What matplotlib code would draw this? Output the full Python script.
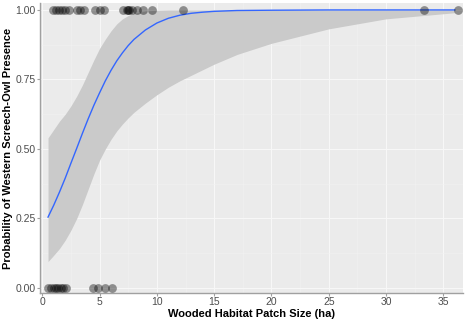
import numpy as np
import matplotlib.pyplot as plt

plt.rcParams['font.family'] = ['Liberation Sans', 'DejaVu Sans']

# fitted logistic curve
fit_x = [0.5, 1.0, 1.5, 2.0, 2.5, 3.0, 3.5, 4.0, 4.5, 5.0, 5.5, 6.0, 6.5, 7.0,
         7.5, 8.0, 9.0, 10.0, 11.0, 12.0, 13.0, 14.0, 15.0, 17.0, 20.0, 25.0, 30.0, 36.0]
fit_y = [0.255, 0.298, 0.345, 0.395, 0.449, 0.502, 0.556, 0.608, 0.657, 0.702,
         0.745, 0.783, 0.817, 0.846, 0.872, 0.894, 0.928, 0.953, 0.970, 0.981,
         0.988, 0.992, 0.995, 0.998, 0.999, 1.0, 1.0, 1.0]
lower = [0.095, 0.118, 0.142, 0.172, 0.208, 0.250, 0.300, 0.355, 0.410, 0.460,
         0.500, 0.535, 0.565, 0.590, 0.612, 0.632, 0.665, 0.695, 0.722, 0.745,
         0.765, 0.785, 0.805, 0.840, 0.880, 0.932, 0.968, 0.990]
upper = [0.540, 0.570, 0.600, 0.625, 0.655, 0.690, 0.730, 0.775, 0.820, 0.862,
         0.895, 0.925, 0.950, 0.968, 0.980, 0.988, 0.996, 0.999, 1.0, 1.0,
         1.0, 1.0, 1.0, 1.0, 1.0, 1.0, 1.0, 1.0]

# observed sites
present_x = [0.9, 1.2, 1.5, 1.7, 2.0, 2.3, 3.0, 3.3, 3.6, 4.6, 5.0, 5.4,
             7.0, 7.4, 7.5, 7.6, 7.8, 8.3, 8.8, 9.6, 12.3, 33.3, 36.3]
absent_x = [0.5, 0.8, 1.0, 1.2, 1.4, 1.6, 1.8, 2.1, 4.4, 4.9, 5.5, 6.1]

xticks = [0, 5, 10, 15, 20, 25, 30, 35]
yticks = [0.0, 0.25, 0.50, 0.75, 1.0]

fig = plt.figure(figsize=(4.74, 3.22), dpi=100)
ax = fig.add_axes([0.0844, 0.09, 0.892, 0.9007])
ax.set_facecolor('#EBEBEB')

ax.fill_between(fit_x, lower, upper, color='#CACACA', lw=0, zorder=2)
ax.plot(fit_x, fit_y, color='#3366FF', lw=1.0, zorder=3)
ax.scatter(present_x, np.ones(len(present_x)), s=40, color='black', alpha=0.4, lw=0, zorder=4, clip_on=False)
ax.scatter(absent_x, np.zeros(len(absent_x)), s=40, color='black', alpha=0.4, lw=0, zorder=4, clip_on=False)

ax.set_xlim(-0.2, 36.7)
ax.set_ylim(-0.018, 1.025)
ax.set_xticks(xticks)
ax.set_yticks(yticks)
ax.set_yticklabels(['0.00', '0.25', '0.50', '0.75', '1.00'])
ax.set_xticks(np.arange(2.5, 36, 5), minor=True)
ax.set_yticks([0.125, 0.375, 0.625, 0.875], minor=True)
ax.grid(True, which='major', color='#F7F7F7', lw=0.8, zorder=1)
ax.grid(True, which='minor', color='#F2F2F2', lw=0.4, zorder=1)
ax.set_axisbelow(True)

for s in ['top', 'right']:
    ax.spines[s].set_visible(False)
for s in ['left', 'bottom']:
    ax.spines[s].set_color('#A0A0A0')
    ax.spines[s].set_linewidth(1.0)
ax.tick_params(which='major', length=2, width=0.8, color='#A0A0A0', labelsize=7.5, labelcolor='#4D4D4D', pad=1)
ax.tick_params(which='minor', length=0)

ax.set_xlabel('Wooded Habitat Patch Size (ha)', fontsize=8, fontweight='bold', labelpad=1)
ax.set_ylabel('Probability of Western Screech-Owl Presence', fontsize=8, fontweight='bold', labelpad=2)

fig.savefig('out.png', dpi=100)
